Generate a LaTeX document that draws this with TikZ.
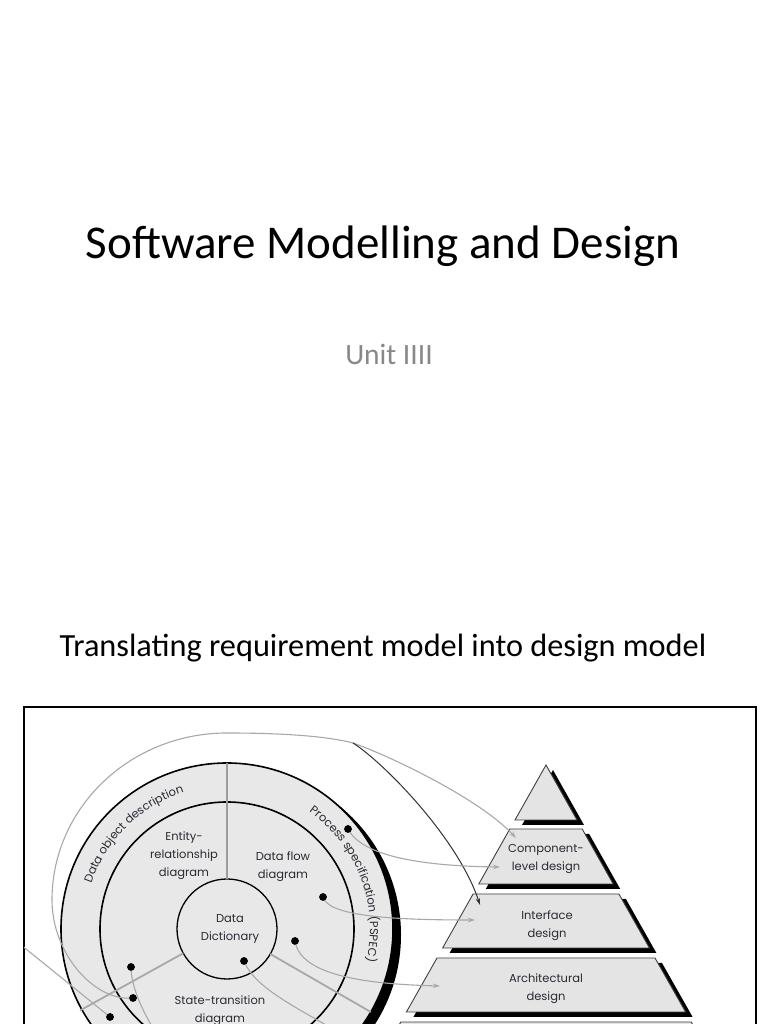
\documentclass[tikz,border=0pt]{standalone}
\usepackage{fontspec}
\setmainfont{Carlito}
\newfontfamily\fut{Poppins}
\usetikzlibrary{decorations.text,arrows.meta}
\definecolor{ringfill}{HTML}{E8E8E8}
\definecolor{pyrfill}{HTML}{E4E4E4}
\definecolor{unitgray}{HTML}{888888}
\definecolor{arcgray}{HTML}{A8A8A8}
\definecolor{divgray}{HTML}{9C9C9C}
\definecolor{labelink}{HTML}{2A2A33}
\tikzset{
  lbl/.style={font=\fut\fontsize{11.5}{18}\selectfont, text=labelink, align=center, inner sep=0pt},
  dotnode/.style={circle, fill=black, inner sep=0pt, minimum size=7.5pt},
  grayarrow/.style={draw=arcgray, line width=1.1pt, -{Stealth[length=7pt,width=4.5pt]}},
  grayline/.style={draw=arcgray, line width=1.1pt},
  darkarrow/.style={draw=black!80, line width=1pt, -{Stealth[length=7pt,width=4.5pt]}},
  divider/.style={draw=divgray, line width=1.2pt},
  level/.style={fill=pyrfill, draw=black!75, line width=0.9pt},
  levelshadow/.style={fill=black, shift={(7pt,-5pt)}},
}
\begin{document}
\begin{tikzpicture}[x=1pt,y=1pt]
\useasboundingbox (0,0) rectangle (768,1024);
\fill[white] (0,0) rectangle (768,1024);
% titles
\node[font=\fontsize{47}{56}\selectfont, anchor=base, inner sep=0pt] (title) at (383,765) {Software Modelling and Design};
\node[font=\fontsize{29.5}{35}\selectfont, text=unitgray, anchor=base, inner sep=0pt] (unit) at (389,659) {Unit IIII};
\node[font=\fontsize{32.3}{38}\selectfont, anchor=base, inner sep=0pt] (sub) at (383,367) {Translating requirement model into design model};
% frame
\draw[line width=1.5pt] (24,-5) -- (24,317) -- (756,317) -- (756,-5);
\begin{scope}
\clip (24,-5) rectangle (756,317);
\coordinate (c) at (227,95);
% circle diagram
\fill[black] ([shift={(8,-6)}]c) circle (166);
\draw[line width=1.6pt, fill=ringfill] (c) circle (166);
\draw[line width=1.6pt] (c) circle (127);
\draw[line width=1.3pt] (c) circle (50);
\draw[divider] ([shift={(90:50)}]c) -- ([shift={(90:166)}]c);
\draw[divider, line width=1.8pt, draw=arcgray] ([shift={(209:50)}]c) -- ([shift={(209:168)}]c);
\draw[divider, line width=1.8pt, draw=arcgray] ([shift={(-30:50)}]c) -- ([shift={(-30:166)}]c);
\node[lbl] (erd) at (184,168) {Entity-\\relationship\\diagram};
\node[lbl] (dfd) at (283,157) {Data flow\\diagram};
\node[lbl] (dd) at (230,95) {Data\\Dictionary};
\node[lbl] (std) at (220,13) {State-transition\\diagram};
\path[decorate, decoration={text along path, text align=center,
  text={|\fut\fontsize{11.5}{12}\selectfont\color{labelink}|Data object description}}]
  ([shift={(163:143)}]c) arc[start angle=163, end angle=106, radius=143];
\path[decorate, decoration={text along path, text align=center,
  text={|\fut\fontsize{11.5}{12}\selectfont\color{labelink}|Process specification (PSPEC)}}]
  ([shift={(58:143)}]c) arc[start angle=58, end angle=-16, radius=143];
% pyramid
\foreach \sty in {levelshadow, level}{
  \path[\sty] (546,259) -- (577,204) -- (515,204) -- cycle;
  \path[\sty] (509.8,195) -- (582.2,195) -- (613.2,140) -- (478.8,140) -- cycle;
  \path[\sty] (473.1,130) -- (618.9,130) -- (649.4,76) -- (442.6,76) -- cycle;
  \path[\sty] (437,66) -- (655,66) -- (685.6,12) -- (406.4,12) -- cycle;
  \path[\sty] (400.8,2) -- (691.2,2) -- (722,-52) -- (370,-52) -- cycle;
}
\node[lbl] (comp) at (546,165) {Component-\\level design};
\node[lbl] (intf) at (547,98) {Interface\\design};
\node[lbl] (arch) at (546,35.5) {Architectural\\design};
% dots
\node[dotnode] (p1) at (348,195) {};
\node[dotnode] (p2) at (323,127) {};
\node[dotnode] (p3) at (295,83) {};
\node[dotnode] (p4) at (244,63) {};
\node[dotnode] (p5) at (131,57) {};
\node[dotnode] (p6) at (133,26) {};
\node[dotnode] (p7) at (110,7) {};
% connector end points
\coordinate (split) at (353,281);
\coordinate (tcomp1) at (516,186);
\coordinate (tcomp2) at (500,157);
\coordinate (tint1) at (480,119);
\coordinate (tint2) at (475,104);
\coordinate (tarch) at (440,38);
\coordinate (gend) at (345,-12);
\coordinate (hend) at (160,-15);
\coordinate (iend) at (10,88);
% connectors
\draw[grayarrow] (p6.center) .. controls (95,22) and (52,70) .. (52,124)
   .. controls (52,216) and (130,291) .. (227,291)
   .. controls (290,291) and (330,287) .. (split)
   .. controls (390,268) and (480,225) .. (tcomp1);
\draw[darkarrow] (split) .. controls (383,262) and (458,186) .. (tint1);
\draw[grayarrow] (p1.center) .. controls (362,168) and (420,158) .. (tcomp2);
\draw[grayarrow] (p2.center) .. controls (328,108) and (390,104) .. (tint2);
\draw[grayarrow] (p3.center) .. controls (300,50) and (360,40) .. (tarch);
\draw[grayline] (p4.center) .. controls (255,35) and (300,15) .. (gend);
\draw[grayline] (p5.center) .. controls (131,40) and (140,15) .. (hend);
\draw[grayline] (p7.center) -- (iend);
\node[dotnode] at (p1) {};
\node[dotnode] at (p2) {};
\node[dotnode] at (p3) {};
\node[dotnode] at (p4) {};
\node[dotnode] at (p5) {};
\node[dotnode] at (p6) {};
\node[dotnode] at (p7) {};
\end{scope}
\end{tikzpicture}
\end{document}
